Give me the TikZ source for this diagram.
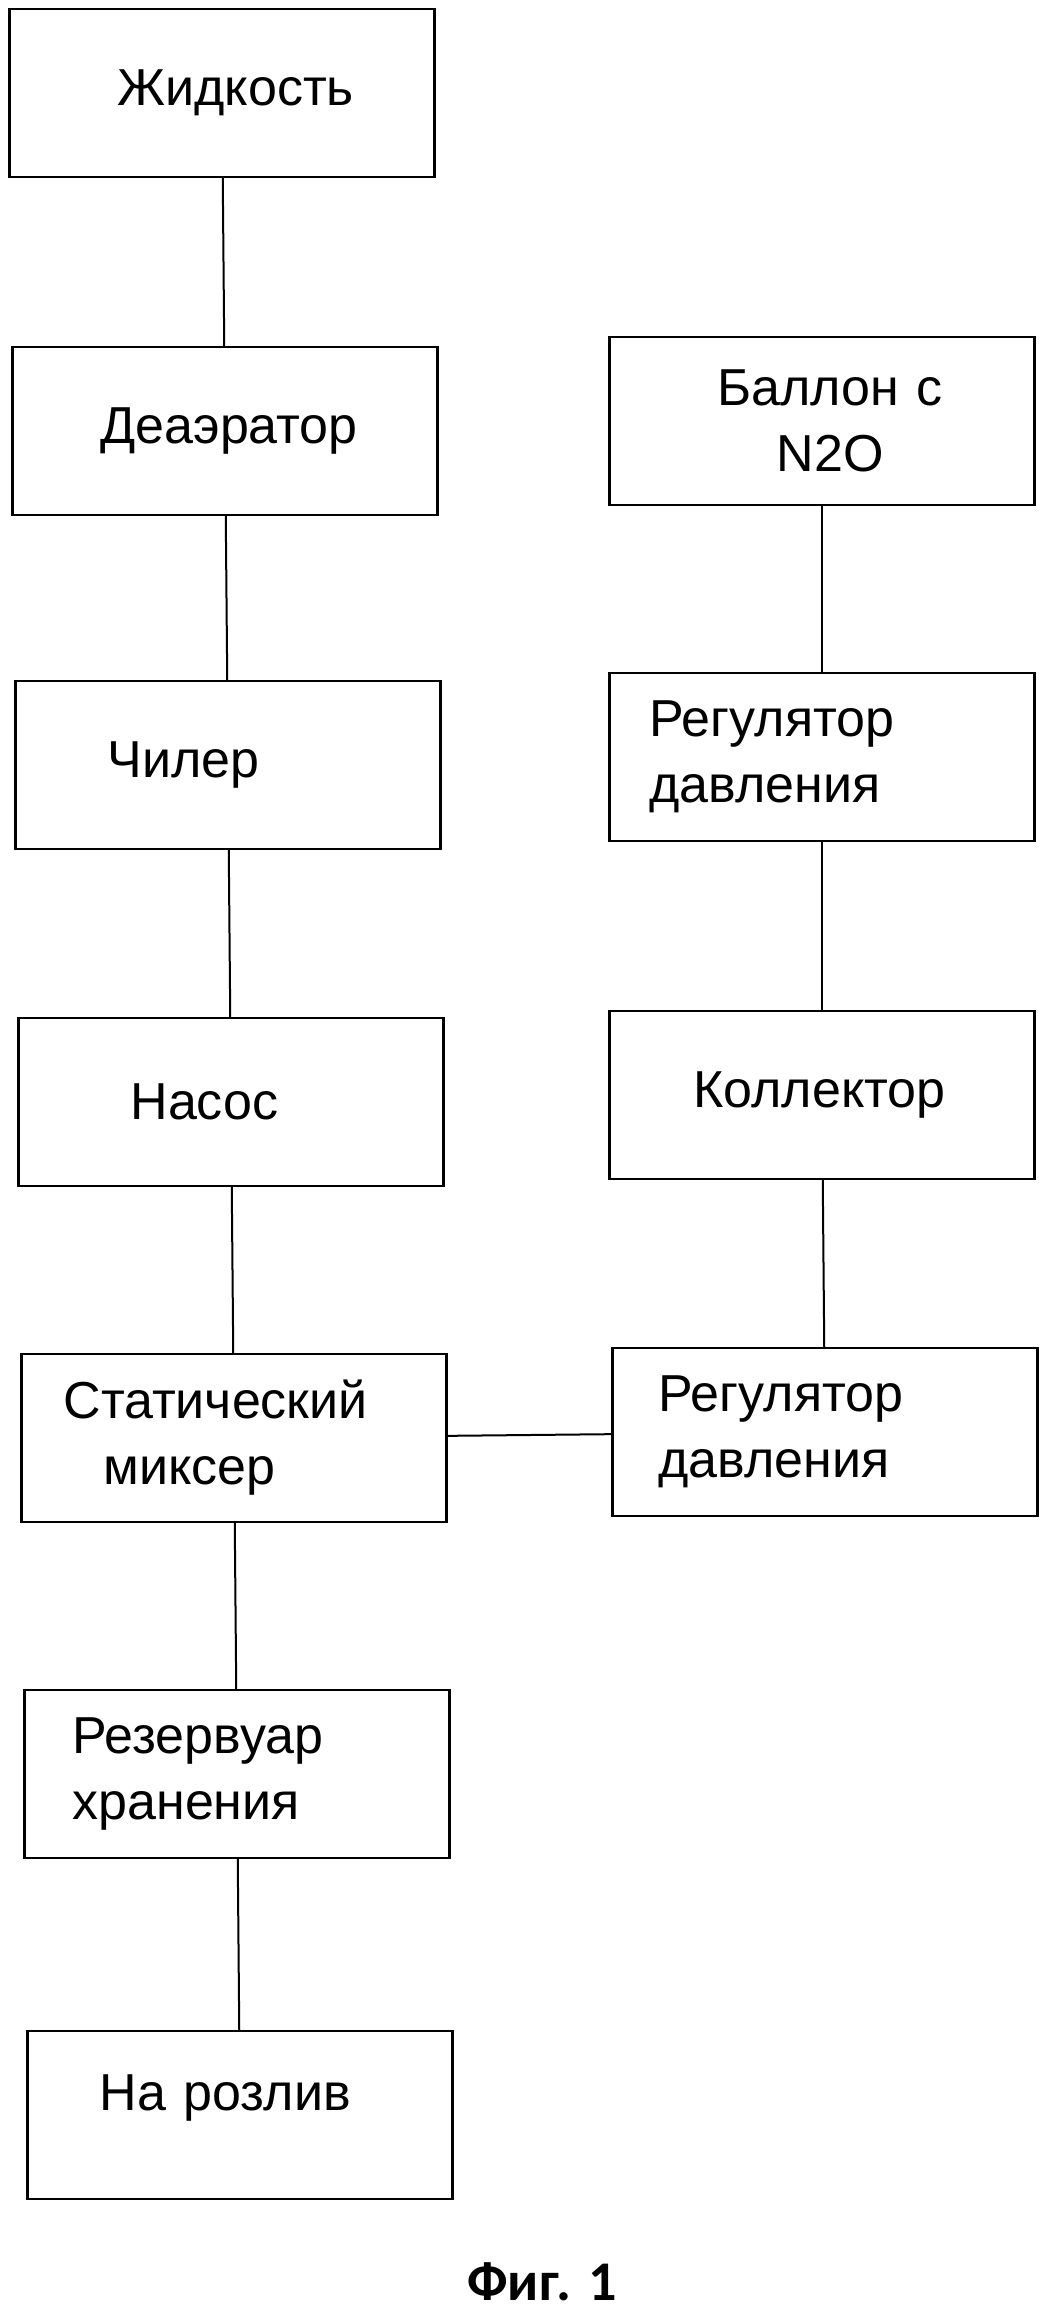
\documentclass[tikz,border=0pt]{standalone}
\usepackage{fontspec}
\setmainfont{Liberation Sans}
\newfontfamily\capfont{Carlito}
\tikzset{
  blk/.style={draw, line width=1.2pt, minimum height=84pt, inner ysep=0pt, align=left,
    font=\fontsize{26}{33}\selectfont},
  wire/.style={line width=1pt}
}
% #1 name, #2 centre (px), #3 left gap, #4 extra options, #5 text
\newcommand{\stage}[5]{%
  \pgfmathsetlengthmacro{\tw}{212.5pt-2*#3}%
  \node[blk, inner xsep=#3, text width=\tw, #4] (#1) at (#2) {#5};}

\begin{document}
\begin{tikzpicture}[x=0.5pt, y=-0.5pt]
  \useasboundingbox (0,0) rectangle (1043,2318);
  % ------------------------------------------------------------------ liquid line
  \stage{liq}{222,93}{54pt}{}{Жидкость}
  \stage{deaer}{225,431}{44pt}{}{Деаэратор}
  \stage{chill}{228,765}{46pt}{}{Чилер}
  \stage{pump}{231,1102}{56pt}{}{Насос}
  \stage{mix}{234,1438}{21pt}{}{Статический\\\hspace*{20pt}миксер}
  \stage{tank}{237,1774}{24pt}{}{Резервуар\\хранения}
  \stage{fill}{240,2115}{36pt}{text depth=22pt}{На розлив}
  % ------------------------------------------------------------------ gas line
  \stage{bottle}{822,421}{10pt}{align=center}{\hspace*{8pt}Баллон с\\\hspace*{8pt}N2O}
  \stage{regA}{822,757}{20pt}{}{Регулятор\\давления}
  \stage{coll}{822,1095}{42pt}{}{Коллектор}
  \stage{regB}{825,1432}{23pt}{}{Регулятор\\давления}
  % ------------------------------------------------------------------ links
  \foreach \a/\b in {liq/deaer, deaer/chill, chill/pump, pump/mix, mix/tank, tank/fill,
                     bottle/regA, regA/coll, coll/regB, mix/regB}
    {\draw[wire] (\a) -- (\b);}
  \node[font=\capfont\bfseries\fontsize{28}{34}\selectfont, anchor=base] (fig) at (542,2300) {Фиг. 1};
\end{tikzpicture}
\end{document}
